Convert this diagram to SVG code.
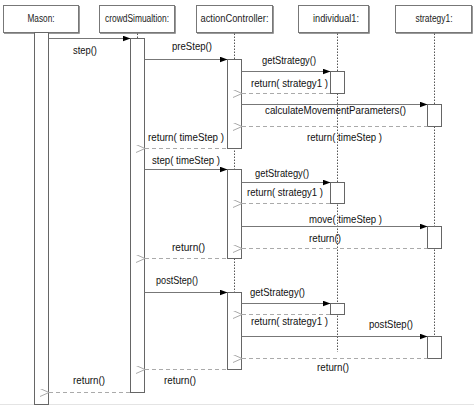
<svg xmlns="http://www.w3.org/2000/svg" width="474" height="413" viewBox="0 0 474 413">
<defs>
<marker id="sync" markerWidth="9" markerHeight="6" refX="8" refY="3" orient="auto" markerUnits="userSpaceOnUse">
<path d="M0,0 L8,3 L0,6 Z" fill="#000"/>
</marker>
<marker id="ret" markerWidth="10" markerHeight="8" refX="0" refY="4" orient="auto-start-reverse" markerUnits="userSpaceOnUse">
<path d="M9,0 L0,4 L9,8" fill="none" stroke="#aaa" stroke-width="1"/>
</marker>
</defs>
<style>
.head{fill:#fff;stroke:#777;stroke-width:1}
.shadow{fill:none;stroke:#999;stroke-width:1}
.htxt{font-family:"Liberation Sans",Arial,sans-serif;font-size:10px;fill:#222;text-anchor:middle}
.life{stroke:#555;stroke-width:1;stroke-dasharray:1.5,1.5;fill:none}
.bar{fill:#fff;stroke:#666;stroke-width:1}
.msg{stroke:#777;stroke-width:1;fill:none;marker-end:url(#sync)}
.rtn{stroke:#aaa;stroke-width:1;stroke-dasharray:4,3;fill:none;marker-start:url(#ret)}
.lbl{font-family:"Liberation Sans",Arial,sans-serif;font-size:11px;fill:#111}
</style>
<rect width="474" height="413" fill="#fff"/>
<line x1="0" y1="404.5" x2="474" y2="404.5" stroke="#e4e4e4" stroke-width="1"/>

<g id="mason">
<rect class="head" x="3.5" y="5.5" width="75" height="27"/>
<polyline class="shadow" points="79.5,6 79.5,33.5 4,33.5"/>
<text class="htxt" x="41" y="22" textLength="27" lengthAdjust="spacingAndGlyphs">Mason:</text>
<rect class="bar" x="34.5" y="32.5" width="14" height="372"/>
</g>

<g id="crowdSimualtion">
<rect class="head" x="99.5" y="5.5" width="75" height="27"/>
<polyline class="shadow" points="175.5,6 175.5,33.5 100,33.5"/>
<text class="htxt" x="137" y="22" textLength="64" lengthAdjust="spacingAndGlyphs">crowdSimualtion:</text>
<line class="life" x1="137.5" y1="33.5" x2="137.5" y2="38"/>
<rect class="bar" x="130.5" y="38.5" width="14" height="354"/>
</g>

<g id="actionController">
<rect class="head" x="196.5" y="5.5" width="76" height="27"/>
<polyline class="shadow" points="273.5,6 273.5,33.5 197,33.5"/>
<text class="htxt" x="234.5" y="22" textLength="68" lengthAdjust="spacingAndGlyphs">actionController:</text>
<line class="life" x1="234.5" y1="33.5" x2="234.5" y2="369"/>
<rect class="bar" x="227.5" y="59.5" width="14" height="89"/>
<rect class="bar" x="227.5" y="169.5" width="14" height="89"/>
<rect class="bar" x="227.5" y="292.5" width="14" height="77"/>
</g>

<g id="individual1">
<rect class="head" x="298.5" y="5.5" width="70" height="27"/>
<polyline class="shadow" points="369.5,6 369.5,33.5 299,33.5"/>
<text class="htxt" x="336" y="22" textLength="46" lengthAdjust="spacingAndGlyphs">individual1:</text>
<line class="life" x1="337.5" y1="33.5" x2="337.5" y2="352"/>
<rect class="bar" x="330.5" y="71.5" width="14" height="22"/>
<rect class="bar" x="330.5" y="182.5" width="14" height="21"/>
<rect class="bar" x="330.5" y="303.5" width="14" height="11"/>
</g>

<g id="strategy1">
<rect class="head" x="395.5" y="5.5" width="76" height="27"/>
<polyline class="shadow" points="472.5,6 472.5,33.5 396,33.5"/>
<text class="htxt" x="434" y="22" textLength="37" lengthAdjust="spacingAndGlyphs">strategy1:</text>
<line class="life" x1="434.5" y1="33.5" x2="434.5" y2="358"/>
<rect class="bar" x="427.5" y="104.5" width="14" height="22"/>
<rect class="bar" x="427.5" y="226.5" width="14" height="22"/>
<rect class="bar" x="427.5" y="336.5" width="14" height="22"/>
</g>

<g id="connectors">
<line class="msg" x1="48.5" y1="38.5" x2="130.5" y2="38.5"/>
<line class="msg" x1="144.5" y1="59.5" x2="227.5" y2="59.5"/>
<line class="msg" x1="241.5" y1="71.5" x2="330.5" y2="71.5"/>
<line class="rtn" x1="242" y1="93.5" x2="330.5" y2="93.5"/>
<line class="msg" x1="241.5" y1="104.5" x2="427.5" y2="104.5"/>
<line class="rtn" x1="242" y1="126.5" x2="427.5" y2="126.5"/>
<line class="rtn" x1="145" y1="148.5" x2="227.5" y2="148.5"/>
<line class="msg" x1="144.5" y1="169.5" x2="227.5" y2="169.5"/>
<line class="msg" x1="241.5" y1="182.5" x2="330.5" y2="182.5"/>
<line class="rtn" x1="242" y1="203.5" x2="330.5" y2="203.5"/>
<line class="msg" x1="241.5" y1="226.5" x2="427.5" y2="226.5"/>
<line class="rtn" x1="242" y1="248.5" x2="427.5" y2="248.5"/>
<line class="rtn" x1="145" y1="258.5" x2="227.5" y2="258.5"/>
<line class="msg" x1="144.5" y1="292.5" x2="227.5" y2="292.5"/>
<line class="msg" x1="241.5" y1="303.5" x2="330.5" y2="303.5"/>
<line class="rtn" x1="242" y1="314.5" x2="330.5" y2="314.5"/>
<line class="msg" x1="241.5" y1="336.5" x2="427.5" y2="336.5"/>
<line class="rtn" x1="242" y1="358.5" x2="427.5" y2="358.5"/>
<line class="rtn" x1="145" y1="369.5" x2="227.5" y2="369.5"/>
<line class="rtn" x1="49" y1="392.5" x2="130.5" y2="392.5"/>
</g>

<g id="labels">
<text class="lbl" x="73" y="54" textLength="24" lengthAdjust="spacingAndGlyphs">step()</text>
<text class="lbl" x="172" y="50" textLength="40" lengthAdjust="spacingAndGlyphs">preStep()</text>
<text class="lbl" x="262" y="64" textLength="54" lengthAdjust="spacingAndGlyphs">getStrategy()</text>
<text class="lbl" x="251" y="87" textLength="77" lengthAdjust="spacingAndGlyphs">return( strategy1 )</text>
<text class="lbl" x="265" y="114" textLength="141" lengthAdjust="spacingAndGlyphs">calculateMovementParameters()</text>
<text class="lbl" x="307" y="141" textLength="75" lengthAdjust="spacingAndGlyphs">return( timeStep )</text>
<text class="lbl" x="148" y="141" textLength="76" lengthAdjust="spacingAndGlyphs">return( timeStep )</text>
<text class="lbl" x="152" y="164" textLength="68" lengthAdjust="spacingAndGlyphs">step( timeStep )</text>
<text class="lbl" x="255" y="177" textLength="54" lengthAdjust="spacingAndGlyphs">getStrategy()</text>
<text class="lbl" x="247" y="196" textLength="76" lengthAdjust="spacingAndGlyphs">return( strategy1 )</text>
<text class="lbl" x="309" y="223" textLength="73" lengthAdjust="spacingAndGlyphs">move( timeStep )</text>
<text class="lbl" x="309" y="242" textLength="32" lengthAdjust="spacingAndGlyphs">return()</text>
<text class="lbl" x="172" y="251" textLength="33" lengthAdjust="spacingAndGlyphs">return()</text>
<text class="lbl" x="156" y="284" textLength="42" lengthAdjust="spacingAndGlyphs">postStep()</text>
<text class="lbl" x="250" y="296" textLength="55" lengthAdjust="spacingAndGlyphs">getStrategy()</text>
<text class="lbl" x="251" y="325" textLength="77" lengthAdjust="spacingAndGlyphs">return( strategy1 )</text>
<text class="lbl" x="369" y="328" textLength="44" lengthAdjust="spacingAndGlyphs">postStep()</text>
<text class="lbl" x="317" y="371" textLength="32" lengthAdjust="spacingAndGlyphs">return()</text>
<text class="lbl" x="164" y="384" textLength="32" lengthAdjust="spacingAndGlyphs">return()</text>
<text class="lbl" x="73" y="384" textLength="32" lengthAdjust="spacingAndGlyphs">return()</text>
</g>
</svg>
